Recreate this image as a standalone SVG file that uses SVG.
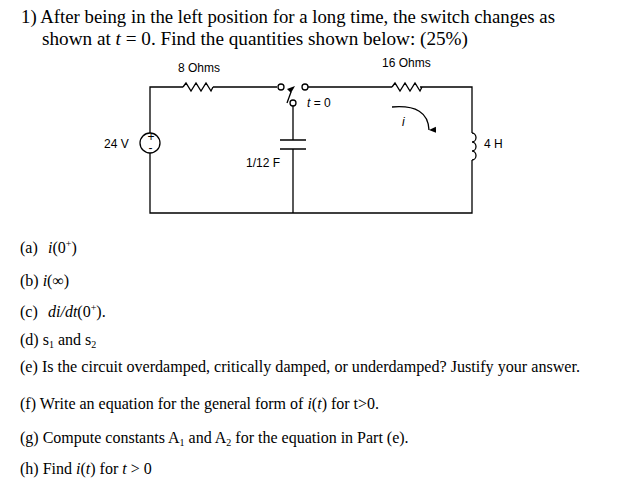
<svg xmlns="http://www.w3.org/2000/svg" width="644" height="496" viewBox="0 0 644 496">
<style>
.w{fill:none;stroke:#000;stroke-width:1.3}
.s{font-family:"Liberation Sans",Arial,sans-serif;font-size:12px}
.t{font-family:"Liberation Serif","Times New Roman",serif;font-size:18px}
.q{font-family:"Liberation Serif","Times New Roman",serif;font-size:16px}
</style>
<defs><marker id="ah" markerWidth="8" markerHeight="8" refX="4" refY="7" orient="auto" markerUnits="userSpaceOnUse"><path d="M1,0 L4,7 L7,0 z" fill="#000"/></marker></defs>
<rect width="644" height="496" fill="#fff"/>
<text class="t" x="21" y="23" textLength="534" lengthAdjust="spacingAndGlyphs">1) After being in the left position for a long time, the switch changes as</text>
<text class="t" x="42" y="45" textLength="426" lengthAdjust="spacingAndGlyphs">shown at <tspan font-style="italic">t</tspan> = 0. Find the quantities shown below: (25%)</text>
<g id="connectors">
<path class="w" d="M150,133 V87 H183 M213,87 H277 M150,153 V213 H472 V160 M472,133 V87 H420 M392,87 H308"/>
<path class="w" d="M293,106 V140 M293,149 V213"/>
<path class="w" d="M392,107 Q428,104 429,130" marker-end="url(#ah)"/>
</g>
<g id="r8"><path class="w" d="M183,87 l3,-4 l5,8 l5,-8 l5,8 l5,-8 l5,8 l2,-4"/><text class="s" x="178" y="72">8 Ohms</text></g>
<g id="r16"><path class="w" d="M392,87 l3,-4 l5,8 l5,-8 l5,8 l5,-8 l5,8 l2,-4"/><text class="s" x="382" y="67">16 Ohms</text></g>
<g id="switch">
<circle class="w" cx="281" cy="87" r="3"/><circle class="w" cx="305" cy="87" r="3"/><circle class="w" cx="293" cy="103" r="3"/>
<path class="w" d="M287,103 L291,92"/><path d="M287,89 L295,86 L291,93 z" fill="#000"/>
<text class="s" x="307" y="107"><tspan font-style="italic">t</tspan> = 0</text>
</g>
<g id="cap"><path class="w" d="M280,140 H306 M280,149 H306"/><text class="s" x="246" y="167">1/12 F</text></g>
<g id="src"><circle class="w" cx="150" cy="143" r="10"/><text class="s" font-size="8"><tspan x="147.5" y="141">+</tspan><tspan x="148.5" y="152">-</tspan></text><text class="s" x="104" y="148">24 V</text></g>
<g id="ind"><path class="w" d="M472,133 a4,4.5 0 1 1 0,9 a4,4.5 0 1 1 0,9 a4,4.5 0 1 1 0,9"/><text class="s" x="484" y="148">4 H</text></g>
<text class="s" x="402" y="126" font-style="italic">i</text>
<g class="q">
<text x="20" y="253">(a)</text><text x="48" y="253"><tspan font-style="italic">i</tspan>(0<tspan font-size="10" dy="-6">+</tspan><tspan dy="6">)</tspan></text>
<text x="20" y="286">(b) <tspan font-style="italic">i</tspan>(∞)</text>
<text x="20" y="317">(c)</text><text x="48" y="317"><tspan font-style="italic">di/dt</tspan>(0<tspan font-size="10" dy="-6">+</tspan><tspan dy="6">).</tspan></text>
<text x="20" y="345">(d) s<tspan font-size="10" dy="3">1</tspan><tspan dy="-3"> and s</tspan><tspan font-size="10" dy="3">2</tspan></text>
<text x="20" y="372" textLength="560" lengthAdjust="spacingAndGlyphs">(e) Is the circuit overdamped, critically damped, or underdamped? Justify your answer.</text>
<text x="20" y="409">(f)  Write an equation for the general form of <tspan font-style="italic">i</tspan>(<tspan font-style="italic">t</tspan>) for t&gt;0.</text>
<text x="20" y="443">(g) Compute constants A<tspan font-size="10" dy="3">1</tspan><tspan dy="-3"> and A</tspan><tspan font-size="10" dy="3">2</tspan><tspan dy="-3"> for the equation in Part (e).</tspan></text>
<text x="20" y="474">(h) Find <tspan font-style="italic">i</tspan>(<tspan font-style="italic">t</tspan>) for <tspan font-style="italic">t</tspan> &gt; 0</text>
</g>
</svg>
